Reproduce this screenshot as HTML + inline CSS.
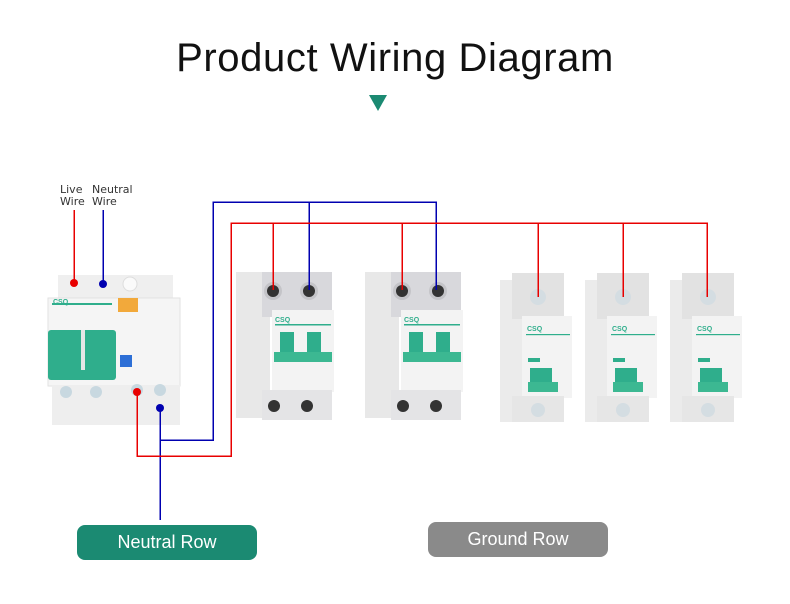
<!DOCTYPE html>
<html><head><meta charset="utf-8"><style>
body{margin:0;width:790px;height:604px;background:#fff;position:relative;overflow:hidden;font-family:"Liberation Sans",sans-serif}
.t{position:absolute;left:0;width:790px;top:36px;text-align:center;font-size:40px;color:#111;letter-spacing:0.6px}
.btn{position:absolute;color:#fff;font-size:18px;text-align:center;border-radius:8px}
</style></head><body>
<div class="t">Product Wiring Diagram</div>
<svg width="790" height="604" style="position:absolute;left:0;top:0">
<polygon points="369,95 387,95 378,111" fill="#1b8a72"/>
<text x="60" y="193" font-size="11" font-family="DejaVu Sans" fill="#333">Live</text>
<text x="60" y="205" font-size="11" font-family="DejaVu Sans" fill="#333">Wire</text>
<text x="92" y="193" font-size="11" font-family="DejaVu Sans" fill="#333">Neutral</text>
<text x="92" y="205" font-size="11" font-family="DejaVu Sans" fill="#333">Wire</text>

<!-- RCBO -->
<g>
<rect x="58" y="275" width="115" height="28" fill="#efefef"/>
<rect x="48" y="298" width="132" height="88" fill="#f5f5f5" stroke="#e2e2e2"/>
<rect x="52" y="303" width="60" height="2" fill="#2fae8c"/>
<text x="53" y="304" font-size="7" fill="#2fae8c" font-weight="bold">CSQ</text>
<rect x="118" y="298" width="20" height="14" fill="#f2a93b"/>
<rect x="48" y="330" width="68" height="50" fill="#2fae8c" rx="3"/>
<rect x="81" y="330" width="4" height="40" fill="#e6e6e6"/>
<rect x="120" y="355" width="12" height="12" fill="#2d6fd6"/>
<rect x="52" y="385" width="128" height="40" fill="#eeeeee"/>
<circle cx="66" cy="392" r="6" fill="#c8d8e0"/><circle cx="96" cy="392" r="6" fill="#c8d8e0"/>
<circle cx="137" cy="390" r="6" fill="#c8d8e0"/><circle cx="160" cy="390" r="6" fill="#c8d8e0"/>
<circle cx="130" cy="284" r="7" fill="#fafafa" stroke="#ddd"/>
</g>

<!-- double breakers -->
<g id="d">
<rect x="236" y="272" width="34" height="146" fill="#e8e8e8"/>
<rect x="262" y="272" width="70" height="45" fill="#d8d8dc"/>
<circle cx="273" cy="291" r="9" fill="#c4c4c8"/><circle cx="273" cy="291" r="6" fill="#333"/>
<circle cx="309" cy="291" r="9" fill="#c4c4c8"/><circle cx="309" cy="291" r="6" fill="#333"/>
<rect x="272" y="310" width="62" height="82" fill="#f3f3f3"/>
<text x="275" y="322" font-size="7" fill="#2fae8c" font-weight="bold">CSQ</text>
<rect x="275" y="324" width="56" height="1.5" fill="#2fae8c"/>
<rect x="280" y="332" width="14" height="30" fill="#2fae8c"/><rect x="307" y="332" width="14" height="30" fill="#2fae8c"/>
<rect x="274" y="352" width="58" height="10" fill="#3cb892"/>
<rect x="262" y="390" width="70" height="30" fill="#e4e4e6"/>
<circle cx="274" cy="406" r="6" fill="#333"/><circle cx="307" cy="406" r="6" fill="#333"/>
</g>
<use href="#d" x="129"/>

<!-- single breakers -->
<g id="s">
<rect x="500" y="280" width="25" height="142" fill="#ebebeb"/>
<rect x="512" y="273" width="52" height="46" fill="#e2e2e2"/>
<circle cx="538" cy="297" r="8" fill="#d4dde2"/>
<rect x="522" y="316" width="50" height="82" fill="#f3f3f3"/>
<text x="527" y="331" font-size="7" fill="#2fae8c" font-weight="bold">CSQ</text>
<rect x="526" y="334" width="44" height="1.2" fill="#2fae8c"/>
<rect x="528" y="358" width="12" height="4" fill="#2fae8c"/>
<rect x="530" y="368" width="22" height="18" fill="#2fae8c"/>
<rect x="528" y="382" width="30" height="10" fill="#3cb892"/>
<rect x="512" y="396" width="52" height="26" fill="#e6e6e6"/>
<circle cx="538" cy="410" r="7" fill="#d4dde2"/>
</g>
<use href="#s" x="85"/>
<use href="#s" x="170"/>

<!-- wires -->
<g fill="none" stroke-width="1.5" shape-rendering="crispEdges">
<polyline stroke="#e80000" points="74,210 74,283"/>
<polyline stroke="#0000b0" points="103,210 103,284"/>
<polyline stroke="#0000b0" points="160,520 160,408"/>
<polyline stroke="#0000b0" points="160,440 213,440 213,202 436,202 436,290"/>
<polyline stroke="#0000b0" points="309,202 309,290"/>
<polyline stroke="#e80000" points="137,392 137,456 231,456 231,223 707,223 707,297"/>
<polyline stroke="#e80000" points="273,223 273,290"/>
<polyline stroke="#e80000" points="402,223 402,290"/>
<polyline stroke="#e80000" points="538,223 538,297"/>
<polyline stroke="#e80000" points="623,223 623,297"/>
</g>
<circle cx="74" cy="283" r="4" fill="#e80000"/>
<circle cx="103" cy="284" r="4" fill="#0000b0"/>
<circle cx="137" cy="392" r="4" fill="#e80000"/>
<circle cx="160" cy="408" r="4" fill="#0000b0"/>
</svg>
<div class="btn" style="left:77px;top:525px;width:180px;height:35px;line-height:35px;background:#1b8a72">Neutral Row</div>
<div class="btn" style="left:428px;top:522px;width:180px;height:35px;line-height:35px;background:#8a8a8a">Ground Row</div>
</body></html>
